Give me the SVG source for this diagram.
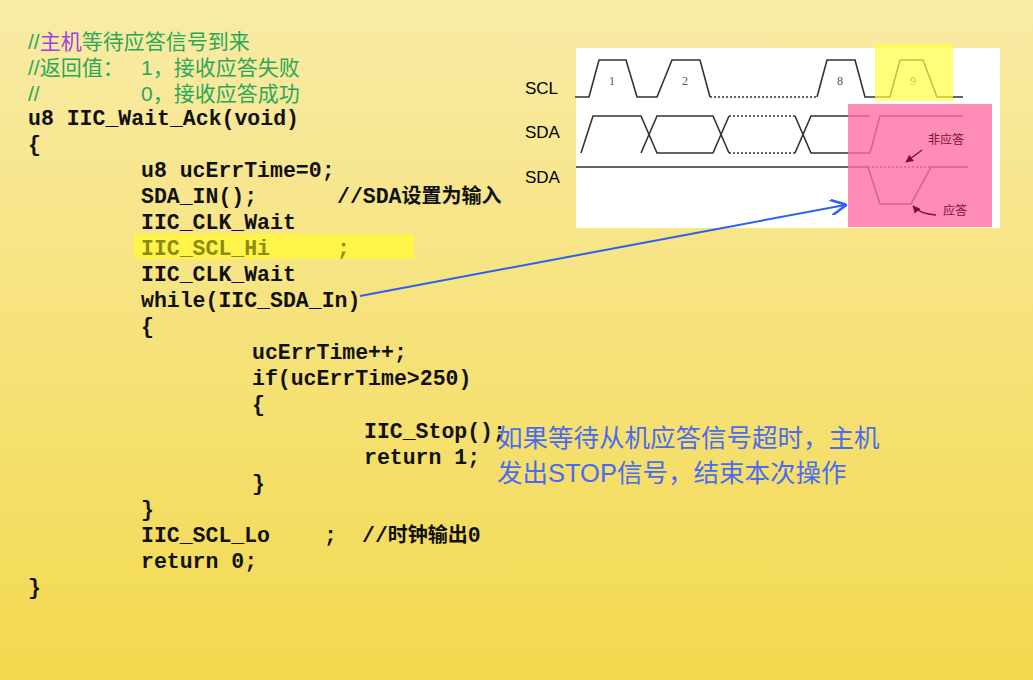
<svg xmlns="http://www.w3.org/2000/svg" width="1033" height="680" viewBox="0 0 1033 680">
<defs>
<linearGradient id="bg" x1="0" y1="0" x2="0" y2="1"><stop offset="0" stop-color="#f9eba6"/><stop offset="1" stop-color="#f3d94f"/></linearGradient>
<marker id="ab" viewBox="0 0 10 10" refX="9" refY="5" markerWidth="8" markerHeight="8" orient="auto"><path d="M0,0 L10,5 L0,10" fill="none" stroke="#2f5ff0" stroke-width="1.6"/></marker>
<marker id="am" viewBox="0 0 10 10" refX="9" refY="5" markerWidth="6" markerHeight="6" orient="auto"><path d="M0,0 L10,5 L0,10 z" fill="#7a1030"/></marker>
<style>
.c{font-family:"Liberation Mono",monospace;font-weight:bold;font-size:21.5px;fill:#111}
.k{font-family:"Liberation Sans","Noto Sans CJK SC",sans-serif;font-size:21px;fill:#2aa85a}
.w{fill:none;stroke:#333;stroke-width:1.6}
.d{fill:none;stroke:#333;stroke-width:1.4;stroke-dasharray:2 2}
.l{font-family:"Liberation Sans",sans-serif;font-size:17px;fill:#000}
.n{font-family:"Liberation Serif",serif;font-size:12px;fill:#555}
.b{font-family:"Liberation Sans","Noto Sans CJK SC",sans-serif;font-size:25.5px;fill:#4a6cf0}
</style>
</defs>
<rect width="1033" height="680" fill="url(#bg)"/>
<g id="code">
<rect x="134" y="234" width="280" height="25" fill="#fff44a"/>
<text x="28" y="49" class="k"><tspan>//</tspan><tspan fill="#a040e0">主机</tspan><tspan>等待应答信号到来</tspan></text>
<text x="28" y="75" class="k">//返回值：</text><text x="141" y="75" class="k">1，接收应答失败</text>
<text x="28" y="101" class="k">//</text><text x="141" y="101" class="k">0，接收应答成功</text>
<text x="28" y="125" class="c">u8 IIC_Wait_Ack(void)</text>
<text x="28" y="151" class="c">{</text>
<text x="141" y="177" class="c">u8 ucErrTime=0;</text>
<text x="141" y="203" class="c">SDA_IN();</text><text x="337" y="203" class="c">//SDA<tspan font-family="Noto Sans CJK SC,sans-serif" font-size="20">设置为输入</tspan></text>
<text x="141" y="229" class="c">IIC_CLK_Wait</text>
<text x="141" y="255" class="c" style="fill:#8c8a10">IIC_SCL_Hi</text><text x="337" y="255" class="c" style="fill:#8c8a10">;</text>
<text x="141" y="281" class="c">IIC_CLK_Wait</text>
<text x="141" y="307" class="c">while(IIC_SDA_In)</text>
<text x="141" y="333" class="c">{</text>
<text x="252" y="359" class="c">ucErrTime++;</text>
<text x="252" y="385" class="c">if(ucErrTime&gt;250)</text>
<text x="252" y="411" class="c">{</text>
<text x="364" y="438" class="c">IIC_Stop();</text>
<text x="364" y="464" class="c">return 1;</text>
<text x="252" y="490" class="c">}</text>
<text x="141" y="516" class="c">}</text>
<text x="141" y="542" class="c">IIC_SCL_Lo</text><text x="324" y="542" class="c">;</text><text x="362" y="542" class="c">//<tspan font-family="Noto Sans CJK SC,sans-serif" font-size="20">时钟输出</tspan>0</text>
<text x="141" y="568" class="c">return 0;</text>
<text x="28" y="594" class="c">}</text>
</g>
<g id="timing">
<rect x="576" y="48" width="424" height="180" fill="#fff"/>
<text x="525" y="94" class="l">SCL</text><text x="525" y="138" class="l">SDA</text><text x="525" y="183" class="l">SDA</text>
<path class="w" d="M575,97 H589 L599,60 H626 L637,97 H657 L672,60 H700 L710,97"/>
<path class="d" d="M710,97 H817"/>
<path class="w" d="M817,97 L827,60 H855 L865,97 H890 L900,60 H923 L937,97 H963"/>
<text x="609" y="85" class="n">1</text><text x="682" y="85" class="n">2</text><text x="837" y="85" class="n">8</text><text x="910" y="85" class="n">9</text>
<path class="w" d="M581,153 L593,116 H641 L657,153 H713 M641,153 L657,116 H713 L729,153 M713,153 L729,116"/>
<path class="d" d="M729,116 H795 M729,153 H795"/>
<path class="w" d="M795,116 L811,153 H870 L880,116 H963 M795,153 L811,116 H870"/>
<path class="w" d="M576,167 H868 L880,204 H911 L931,167 H968"/>
<path class="d" d="M868,167 H931"/>
<rect x="875" y="44" width="78" height="57" fill="#ffff40" opacity="0.7"/>
<rect x="848" y="104" width="144" height="123" fill="#ff6fa5" opacity="0.8"/>
<text x="928" y="144" class="n" style="fill:#7a1030;font-family:'Noto Sans CJK SC',sans-serif">非应答</text>
<text x="943" y="215" class="n" style="fill:#7a1030;font-family:'Noto Sans CJK SC',sans-serif">应答</text>
<path d="M922,150 L906,162" stroke="#7a1030" stroke-width="1.3" marker-end="url(#am)"/>
<path d="M936,215 Q920,214 913,206" fill="none" stroke="#7a1030" stroke-width="1.3" marker-end="url(#am)"/>
</g>
<g id="note">
<text x="497" y="447" class="b">如果等待从机应答信号超时，主机</text>
<text x="497" y="482" class="b">发出STOP信号，结束本次操作</text>
</g>
<g id="connectors">
<path d="M360,296 L845,205" stroke="#2f5ff0" stroke-width="2" fill="none" marker-end="url(#ab)"/>
</g>
</svg>
